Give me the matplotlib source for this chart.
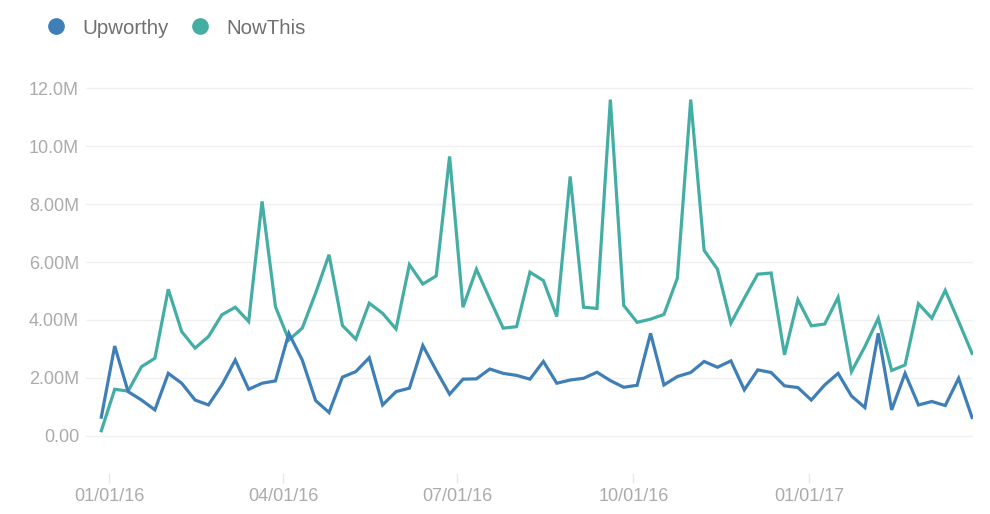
import pandas as pd
import matplotlib
matplotlib.use("Agg")
import matplotlib.pyplot as plt
import matplotlib.dates as mdates
from matplotlib.lines import Line2D
from matplotlib.ticker import FuncFormatter, MultipleLocator


# weekly views, in millions
weeks = pd.date_range("2015-12-28", periods=66, freq="7D")

upworthy = [
    0.65, 3.10, 1.53, 1.24, 0.90, 2.16, 1.82, 1.24, 1.07, 1.76,
    2.62, 1.61, 1.82, 1.90, 3.54, 2.62, 1.22, 0.81, 2.03, 2.22,
    2.70, 1.07, 1.53, 1.65, 3.12, 2.26, 1.44, 1.96, 1.97, 2.31,
    2.16, 2.09, 1.96, 2.57, 1.82, 1.93, 1.99, 2.20, 1.91, 1.68,
    1.75, 3.54, 1.76, 2.05, 2.19, 2.57, 2.37, 2.59, 1.59, 2.28,
    2.19, 1.73, 1.67, 1.24, 1.76, 2.16, 1.38, 0.98, 3.54, 0.90,
    2.16, 1.07, 1.19, 1.05, 1.99, 0.64,
]

nowthis = [
    0.18, 1.61, 1.55, 2.39, 2.68, 5.06, 3.60, 3.03, 3.43, 4.18,
    4.44, 3.95, 8.09, 4.46, 3.31, 3.72, 4.93, 6.25, 3.81, 3.34,
    4.58, 4.23, 3.69, 5.91, 5.24, 5.52, 9.64, 4.44, 5.75, 4.72,
    3.72, 3.77, 5.65, 5.36, 4.12, 8.95, 4.44, 4.40, 11.60, 4.50,
    3.92, 4.03, 4.19, 5.44, 11.60, 6.40, 5.75, 3.89, 4.75, 5.58,
    5.62, 2.80, 4.70, 3.80, 3.86, 4.78, 2.22, 3.08, 4.06, 2.26,
    2.45, 4.56, 4.06, 5.02, 3.95, 2.85,
]

series_names = ["Upworthy", "NowThis"]
series_colors = ["#3f7fb8", "#44aea5"]

x_ticks = ["2016-01-01", "2016-04-01", "2016-07-01", "2016-10-01", "2017-01-01"]


def fmt_millions(v, pos):
    if abs(v) < 1e-9:
        return "0.00"
    return "{:#.3g}M".format(v)


def main():
    plt.rcParams["font.family"] = ["Liberation Sans", "DejaVu Sans"]

    fig = plt.figure(figsize=(9.9, 5.14), dpi=100)
    ax = fig.add_axes([86 / 990, 1 - 473 / 514, (973 - 86) / 990, (473 - 80) / 514])

    # NowThis under, Upworthy on top
    ax.plot(weeks, nowthis, color=series_colors[1], lw=2.3, solid_joinstyle="miter")
    ax.plot(weeks, upworthy, color=series_colors[0], lw=2.3, solid_joinstyle="miter")

    ax.set_ylim(-1.276, 12.276)
    ax.set_xlim(weeks[0] - pd.Timedelta(days=8), weeks[-1] + pd.Timedelta(days=0.5))

    ax.yaxis.set_major_locator(MultipleLocator(2))
    ax.yaxis.set_major_formatter(FuncFormatter(fmt_millions))
    ax.set_xticks(pd.to_datetime(x_ticks))
    ax.xaxis.set_major_formatter(mdates.DateFormatter("%m/%d/%y"))

    ax.grid(axis="y", color="#f0f0f0", lw=1)
    ax.set_axisbelow(True)
    for s in ax.spines.values():
        s.set_visible(False)

    ax.tick_params(axis="y", length=0, pad=5, labelsize=13, labelcolor="#ababab")
    ax.tick_params(axis="x", length=7, width=1, color="#e8e8e8", pad=4,
                   labelsize=13, labelcolor="#ababab")

    handles = [Line2D([], [], marker="o", linestyle="none", markersize=11,
                      color=c) for c in series_colors]
    fig.legend(handles, series_names, loc="center left",
               bbox_to_anchor=(49 / 990, 1 - 28 / 514), ncol=2, frameon=False,
               fontsize=14.7, labelcolor="#707070", handlelength=0.7,
               handletextpad=0.93, columnspacing=1.18, borderpad=0,
               borderaxespad=0)

    fig.savefig("out.png", dpi=100)


if __name__ == "__main__":
    main()
